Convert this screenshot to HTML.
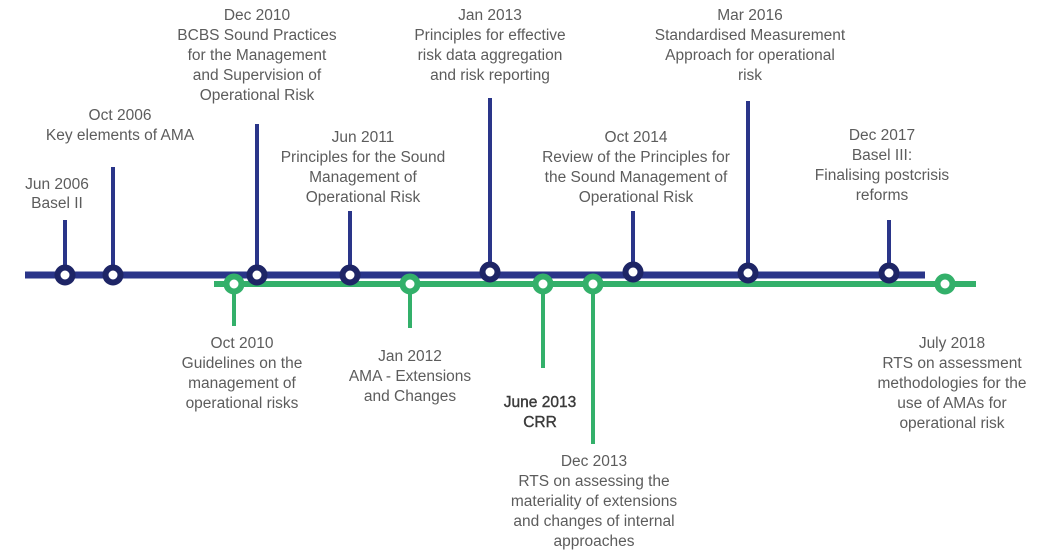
<!DOCTYPE html>
<html><head><meta charset="utf-8"><style>
html,body{margin:0;padding:0;background:#fff;}
svg{display:block}
text{font-family:"Liberation Sans",sans-serif;font-size:15.5px;fill:#5c5c5c;text-anchor:middle}
.b{fill:#3a3a3a;stroke:#3a3a3a;stroke-width:0.4}
</style></head><body>
<svg width="1049" height="560" viewBox="0 0 1049 560">
<g stroke="#2a3589" stroke-width="4">
<line x1="65" y1="220" x2="65" y2="275"/>
<line x1="113" y1="167" x2="113" y2="275"/>
<line x1="257" y1="124" x2="257" y2="275"/>
<line x1="350" y1="211" x2="350" y2="275"/>
<line x1="490" y1="98" x2="490" y2="275"/>
<line x1="633" y1="211" x2="633" y2="275"/>
<line x1="748" y1="101" x2="748" y2="275"/>
<line x1="889" y1="220" x2="889" y2="275"/>
</g>
<line x1="25" y1="275" x2="925" y2="275" stroke="#2a3589" stroke-width="7"/>
<g stroke="#33b06a" stroke-width="4">
<line x1="234" y1="284" x2="234" y2="326"/>
<line x1="410" y1="284" x2="410" y2="328"/>
<line x1="543" y1="284" x2="543" y2="368"/>
<line x1="593" y1="284" x2="593" y2="444"/>
</g>
<line x1="214" y1="284" x2="976" y2="284" stroke="#33b06a" stroke-width="6"/>
<g fill="#fff" stroke="#1e2566" stroke-width="6">
<circle cx="65" cy="275" r="7.5"/><circle cx="113" cy="275" r="7.5"/><circle cx="257" cy="275" r="7.5"/><circle cx="350" cy="275" r="7.5"/><circle cx="490" cy="272" r="7.5"/><circle cx="633" cy="272" r="7.5"/><circle cx="748" cy="273" r="7.5"/><circle cx="889" cy="273" r="7.5"/>
</g>
<g fill="#fff" stroke="#33b06a" stroke-width="6">
<circle cx="234" cy="284" r="7.5"/><circle cx="410" cy="284" r="7.5"/><circle cx="543" cy="284" r="7.5"/><circle cx="593" cy="284" r="7.5"/><circle cx="945" cy="284" r="7.5"/>
</g>
<text x="57" y="189">Jun 2006</text><text x="57" y="208">Basel II</text>
<text x="120" y="120">Oct 2006</text><text x="120" y="140">Key elements of AMA</text>
<text x="257" y="20">Dec 2010</text><text x="257" y="40">BCBS Sound Practices</text><text x="257" y="60">for the Management</text><text x="257" y="80">and Supervision of</text><text x="257" y="100">Operational Risk</text>
<text x="363" y="142">Jun 2011</text><text x="363" y="162">Principles for the Sound</text><text x="363" y="182">Management of</text><text x="363" y="202">Operational Risk</text>
<text x="490" y="20">Jan 2013</text><text x="490" y="40">Principles for effective</text><text x="490" y="60">risk data aggregation</text><text x="490" y="80">and risk reporting</text>
<text x="750" y="20">Mar 2016</text><text x="750" y="40">Standardised Measurement</text><text x="750" y="60">Approach for operational</text><text x="750" y="80">risk</text>
<text x="636" y="142">Oct 2014</text><text x="636" y="162">Review of the Principles for</text><text x="636" y="182">the Sound Management of</text><text x="636" y="202">Operational Risk</text>
<text x="882" y="140">Dec 2017</text><text x="882" y="160">Basel III:</text><text x="882" y="180">Finalising postcrisis</text><text x="882" y="200">reforms</text>
<text x="242" y="348">Oct 2010</text><text x="242" y="368">Guidelines on the</text><text x="242" y="388">management of</text><text x="242" y="408">operational risks</text>
<text x="410" y="361">Jan 2012</text><text x="410" y="381">AMA - Extensions</text><text x="410" y="401">and Changes</text>
<text class="b" x="540" y="407">June 2013</text><text class="b" x="540" y="427">CRR</text>
<text x="594" y="466">Dec 2013</text><text x="594" y="486">RTS on assessing the</text><text x="594" y="506">materiality of extensions</text><text x="594" y="526">and changes of internal</text><text x="594" y="546">approaches</text>
<text x="952" y="348">July 2018</text><text x="952" y="368">RTS on assessment</text><text x="952" y="388">methodologies for the</text><text x="952" y="408">use of AMAs for</text><text x="952" y="428">operational risk</text>
</svg>
</body></html>
